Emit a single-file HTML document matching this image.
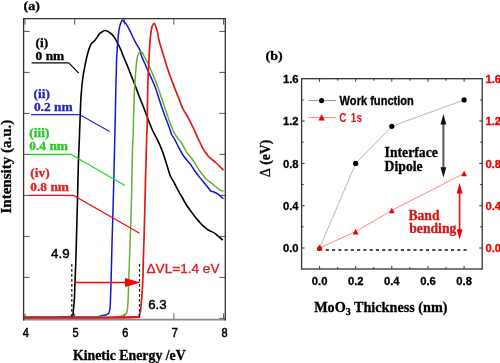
<!DOCTYPE html><html><head><meta charset="utf-8"><title>Figure</title><style>html,body{margin:0;padding:0;background:#fff;}svg{display:block;}</style></head><body>
<svg width="500" height="363" viewBox="0 0 500 363">
<rect width="500" height="363" fill="#fff"/>
<path d="M25.0,319.5V313.5M25.0,18.6V24.6M74.7,319.5V313.5M74.7,18.6V24.6M124.3,319.5V313.5M124.3,18.6V24.6M173.9,319.5V313.5M173.9,18.6V24.6M223.6,319.5V313.5M223.6,18.6V24.6M23.6,31.4H29.6M225.3,31.4H219.3M23.6,72.4H29.6M225.3,72.4H219.3M23.6,113.4H29.6M225.3,113.4H219.3M23.6,154.4H29.6M225.3,154.4H219.3M23.6,195.4H29.6M225.3,195.4H219.3M23.6,236.4H29.6M225.3,236.4H219.3M23.6,277.4H29.6M225.3,277.4H219.3M23.6,318.4H29.6M225.3,318.4H219.3" stroke="#555" stroke-width="1" fill="none"/>
<path d="M24.00,317.30C28.33,317.28 43.67,317.27 50.00,317.20C56.33,317.13 58.67,317.00 62.00,316.90C65.33,316.80 68.28,316.70 70.00,316.60C71.72,316.50 71.82,316.47 72.30,316.30C72.78,316.13 72.72,316.65 72.90,315.60C73.08,314.55 73.15,312.83 73.40,310.00C73.65,307.17 74.15,302.83 74.40,298.60C74.65,294.37 74.68,290.23 74.90,284.60C75.12,278.97 75.45,272.23 75.70,264.80C75.95,257.37 76.10,250.80 76.40,240.00C76.70,229.20 77.18,212.50 77.50,200.00C77.82,187.50 78.00,175.00 78.30,165.00C78.60,155.00 78.98,148.33 79.30,140.00C79.62,131.67 79.95,121.67 80.20,115.00C80.45,108.33 80.60,103.83 80.80,100.00C81.00,96.17 81.18,94.67 81.40,92.00C81.62,89.33 81.82,86.67 82.10,84.00C82.38,81.33 82.72,78.57 83.10,76.00C83.48,73.43 83.95,71.02 84.40,68.60C84.85,66.18 85.32,63.77 85.80,61.50C86.28,59.23 86.75,57.13 87.30,55.00C87.85,52.87 88.42,50.60 89.10,48.70C89.78,46.80 90.45,44.98 91.40,43.60C92.35,42.22 93.72,41.65 94.80,40.40C95.88,39.15 97.07,37.28 97.90,36.10C98.73,34.92 99.18,33.93 99.80,33.30C100.42,32.67 100.78,32.77 101.60,32.30C102.42,31.83 103.67,30.65 104.70,30.50C105.73,30.35 106.65,30.78 107.80,31.40C108.95,32.02 110.45,33.12 111.60,34.20C112.75,35.28 113.67,36.35 114.70,37.90C115.73,39.45 116.78,41.53 117.80,43.50C118.82,45.47 119.93,47.70 120.80,49.70C121.67,51.70 121.97,52.97 123.00,55.50C124.03,58.03 125.60,61.47 127.00,64.90C128.40,68.33 130.13,72.92 131.40,76.10C132.67,79.28 133.38,80.85 134.60,84.00C135.82,87.15 137.20,91.10 138.70,95.00C140.20,98.90 142.17,103.68 143.60,107.40C145.03,111.12 145.83,113.53 147.30,117.30C148.77,121.07 150.95,126.72 152.40,130.00C153.85,133.28 154.77,134.52 156.00,137.00C157.23,139.48 158.63,142.23 159.80,144.90C160.97,147.57 161.97,150.10 163.00,153.00C164.03,155.90 165.08,159.38 166.00,162.30C166.92,165.22 167.73,168.13 168.50,170.50C169.27,172.87 169.63,174.42 170.60,176.50C171.57,178.58 173.02,180.63 174.30,183.00C175.58,185.37 176.93,188.20 178.30,190.70C179.67,193.20 181.12,195.58 182.50,198.00C183.88,200.42 185.23,203.03 186.60,205.20C187.97,207.37 189.33,209.10 190.70,211.00C192.07,212.90 193.42,214.85 194.80,216.60C196.18,218.35 197.62,219.95 199.00,221.50C200.38,223.05 201.55,224.48 203.10,225.90C204.65,227.32 206.40,228.80 208.30,230.00C210.20,231.20 212.80,232.02 214.50,233.10C216.20,234.18 217.12,235.32 218.50,236.50C219.88,237.68 222.08,239.58 222.80,240.20" fill="none" stroke="#000" stroke-width="1.6" stroke-linejoin="round"/>
<path d="M24.00,317.20C35.00,317.18 77.67,317.17 90.00,317.10C102.33,317.03 95.98,317.05 98.00,316.80C100.02,316.55 100.80,315.90 102.10,315.60C103.40,315.30 104.90,315.27 105.80,315.00C106.70,314.73 107.00,314.33 107.50,314.00C108.00,313.67 108.42,313.75 108.80,313.00C109.18,312.25 109.55,311.00 109.80,309.50C110.05,308.00 110.13,307.25 110.30,304.00C110.47,300.75 110.63,295.17 110.80,290.00C110.97,284.83 111.08,281.33 111.30,273.00C111.52,264.67 111.77,252.17 112.10,240.00C112.43,227.83 112.92,214.17 113.30,200.00C113.68,185.83 114.08,168.33 114.40,155.00C114.72,141.67 115.00,129.17 115.20,120.00C115.40,110.83 115.48,105.67 115.60,100.00C115.72,94.33 115.78,90.67 115.90,86.00C116.02,81.33 116.18,76.33 116.30,72.00C116.42,67.67 116.47,63.50 116.60,60.00C116.73,56.50 116.80,55.20 117.10,51.00C117.40,46.80 117.98,38.83 118.40,34.80C118.82,30.77 119.08,29.07 119.60,26.80C120.12,24.53 120.98,22.30 121.50,21.20C122.02,20.10 122.18,20.00 122.70,20.20C123.22,20.40 123.98,21.72 124.60,22.40C125.22,23.08 125.58,23.05 126.40,24.30C127.22,25.55 128.47,27.87 129.50,29.90C130.53,31.93 131.68,34.58 132.60,36.50C133.52,38.42 133.78,39.15 135.00,41.40C136.22,43.65 138.85,47.65 139.90,50.00C140.95,52.35 140.47,53.22 141.30,55.50C142.13,57.78 143.38,60.27 144.90,63.70C146.42,67.13 148.75,72.38 150.40,76.10C152.05,79.82 153.53,82.77 154.80,86.00C156.07,89.23 156.77,91.73 158.00,95.50C159.23,99.27 160.87,104.72 162.20,108.60C163.53,112.48 164.82,115.63 166.00,118.80C167.18,121.97 168.38,125.03 169.30,127.60C170.22,130.17 170.58,132.18 171.50,134.20C172.42,136.22 173.60,137.50 174.80,139.70C176.00,141.90 177.23,144.68 178.70,147.40C180.17,150.12 181.75,153.32 183.60,156.00C185.45,158.68 188.03,161.17 189.80,163.50C191.57,165.83 192.55,167.68 194.20,170.00C195.85,172.32 197.75,174.92 199.70,177.40C201.65,179.88 204.03,182.62 205.90,184.90C207.77,187.18 209.65,189.97 210.90,191.10C212.15,192.23 212.05,191.08 213.40,191.70C214.75,192.32 217.32,193.63 219.00,194.80C220.68,195.97 222.75,198.05 223.50,198.70" fill="none" stroke="#1414d4" stroke-width="1.5" stroke-linejoin="round"/>
<path d="M24.00,317.30C38.00,317.28 93.00,317.27 108.00,317.20C123.00,317.13 111.72,317.10 114.00,316.90C116.28,316.70 120.03,316.30 121.70,316.00C123.37,315.70 123.37,315.35 124.00,315.10C124.63,314.85 125.00,315.02 125.50,314.50C126.00,313.98 126.65,313.08 127.00,312.00C127.35,310.92 127.38,310.83 127.60,308.00C127.82,305.17 128.12,299.67 128.30,295.00C128.48,290.33 128.53,285.00 128.70,280.00C128.87,275.00 129.05,271.67 129.30,265.00C129.55,258.33 129.88,249.17 130.20,240.00C130.52,230.83 130.92,220.00 131.20,210.00C131.48,200.00 131.68,190.00 131.90,180.00C132.12,170.00 132.30,157.50 132.50,150.00C132.70,142.50 132.93,140.00 133.10,135.00C133.27,130.00 133.33,125.83 133.50,120.00C133.67,114.17 133.90,105.67 134.10,100.00C134.30,94.33 134.45,90.40 134.70,86.00C134.95,81.60 135.30,77.43 135.60,73.60C135.90,69.77 136.22,65.68 136.50,63.00C136.78,60.32 136.97,59.00 137.30,57.50C137.63,56.00 137.97,54.98 138.50,54.00C139.03,53.02 139.83,51.77 140.50,51.60C141.17,51.43 141.83,52.10 142.50,53.00C143.17,53.90 143.48,55.02 144.50,57.00C145.52,58.98 147.10,61.72 148.60,64.90C150.10,68.08 151.95,72.38 153.50,76.10C155.05,79.82 156.73,84.05 157.90,87.20C159.07,90.35 159.37,91.63 160.50,95.00C161.63,98.37 163.42,103.62 164.70,107.40C165.98,111.18 167.07,114.52 168.20,117.70C169.33,120.88 170.48,123.93 171.50,126.50C172.52,129.07 173.20,131.08 174.30,133.10C175.40,135.12 176.92,136.95 178.10,138.60C179.28,140.25 180.30,141.35 181.40,143.00C182.50,144.65 183.82,146.95 184.70,148.50C185.58,150.05 185.53,150.63 186.70,152.30C187.87,153.97 190.23,156.55 191.70,158.50C193.17,160.45 194.27,162.08 195.50,164.00C196.73,165.92 197.37,167.55 199.10,170.00C200.83,172.45 203.73,176.43 205.90,178.70C208.07,180.97 209.82,181.75 212.10,183.60C214.38,185.45 217.70,188.53 219.60,189.80C221.50,191.07 222.85,190.97 223.50,191.20" fill="none" stroke="#66b030" stroke-width="1.5" stroke-linejoin="round"/>
<path d="M24.00,317.90C36.67,317.88 81.33,317.88 100.00,317.80C118.67,317.72 129.58,317.65 136.00,317.40C142.42,317.15 137.92,316.78 138.50,316.30C139.08,315.82 139.17,315.38 139.50,314.50C139.83,313.62 140.17,313.42 140.50,311.00C140.83,308.58 141.20,303.50 141.50,300.00C141.80,296.50 142.05,294.17 142.30,290.00C142.55,285.83 142.83,280.00 143.00,275.00C143.17,270.00 143.13,265.83 143.30,260.00C143.47,254.17 143.75,248.33 144.00,240.00C144.25,231.67 144.55,220.00 144.80,210.00C145.05,200.00 145.27,189.17 145.50,180.00C145.73,170.83 146.00,162.17 146.20,155.00C146.40,147.83 146.52,142.83 146.70,137.00C146.88,131.17 147.17,126.17 147.30,120.00C147.43,113.83 147.38,106.67 147.50,100.00C147.62,93.33 147.82,85.43 148.00,80.00C148.18,74.57 148.40,71.57 148.60,67.40C148.80,63.23 149.05,57.90 149.20,55.00C149.35,52.10 149.30,52.95 149.50,50.00C149.70,47.05 150.03,40.97 150.40,37.30C150.77,33.63 151.28,30.07 151.70,28.00C152.12,25.93 152.48,25.67 152.90,24.90C153.32,24.13 153.78,23.30 154.20,23.40C154.62,23.50 154.88,24.22 155.40,25.50C155.92,26.78 156.72,28.68 157.30,31.10C157.88,33.52 158.25,37.23 158.90,40.00C159.55,42.77 160.43,45.13 161.20,47.70C161.97,50.27 162.63,52.50 163.50,55.40C164.37,58.30 165.43,62.03 166.40,65.10C167.37,68.17 168.33,71.07 169.30,73.80C170.27,76.53 171.23,78.93 172.20,81.50C173.17,84.07 173.97,86.30 175.10,89.20C176.23,92.10 177.72,95.68 179.00,98.90C180.28,102.12 181.58,105.90 182.80,108.50C184.02,111.10 185.10,112.37 186.30,114.50C187.50,116.63 188.83,119.05 190.00,121.30C191.17,123.55 192.00,125.25 193.30,128.00C194.60,130.75 196.13,134.27 197.80,137.80C199.47,141.33 201.68,146.30 203.30,149.20C204.92,152.10 206.22,153.63 207.50,155.20C208.78,156.77 209.55,157.30 211.00,158.60C212.45,159.90 214.12,161.07 216.20,163.00C218.28,164.93 222.28,169.00 223.50,170.20" fill="none" stroke="#dc1a1a" stroke-width="1.7" stroke-linejoin="round"/>
<polyline points="24,317.9 100,317.8 137.5,317.0" fill="none" stroke="#ee1010" stroke-width="2.1"/>
<line x1="23.0" y1="319.7" x2="225.9" y2="319.7" stroke="#8a8a8a" stroke-width="1.8"/>
<path d="M23.6,320.4V18.6H225.3V320.4" fill="none" stroke="#333" stroke-width="1.3"/>
<polyline points="31.6,62.9 68.7,62.9 78.8,73.2" fill="none" stroke="#000" stroke-width="1.2"/>
<polyline points="31,114.6 79.5,114.6 109.6,131.4" fill="none" stroke="#2222dd" stroke-width="1.2"/>
<polyline points="29,154.3 70.8,154.3 125,185.5" fill="none" stroke="#11dd11" stroke-width="1.2"/>
<polyline points="29,195.4 73.6,195.4 139.6,233.2" fill="none" stroke="#ee1111" stroke-width="1.2"/>
<g font-family="'Liberation Serif', 'Times New Roman', serif" font-weight="bold" font-size="13.5">
<text transform="translate(23.6,9.6) scale(1.1,1)" font-size="12.8" stroke="#000" stroke-width="0.3">(a)</text>
<g font-size="12.2">
<text transform="translate(35.6,47.0) scale(1.1,1)" stroke="#000" stroke-width="0.3">(i)</text>
<text transform="translate(35.6,59.5) scale(1.1,1)" stroke="#000" stroke-width="0.3">0 nm</text>
<text transform="translate(33.6,98.0) scale(1.1,1)" fill="#2a2aa8" stroke="#2a2aa8" stroke-width="0.3">(ii)</text>
<text transform="translate(33.9,111.4) scale(1.1,1)" fill="#2a2aa8" stroke="#2a2aa8" stroke-width="0.3">0.2 nm</text>
<text transform="translate(29.3,136.8) scale(1.1,1)" fill="#22cc22" stroke="#22cc22" stroke-width="0.3">(iii)</text>
<text transform="translate(29.3,149.6) scale(1.1,1)" fill="#22cc22" stroke="#22cc22" stroke-width="0.3">0.4 nm</text>
<text transform="translate(30.3,177.2) scale(1.1,1)" fill="#dd2222" stroke="#dd2222" stroke-width="0.3">(iv)</text>
<text transform="translate(30.3,191.0) scale(1.1,1)" fill="#dd2222" stroke="#dd2222" stroke-width="0.3">0.8 nm</text>
</g>
<text x="73" y="360" font-size="13.8" stroke="#000" stroke-width="0.3">Kinetic Energy /eV</text>
<text transform="translate(11,213.5) rotate(-90)" font-size="15" stroke="#000" stroke-width="0.3">Intensity (a.u.)</text>
</g>
<g font-family="'Liberation Sans', Arial, sans-serif" font-size="12.2" text-anchor="middle">
<text transform="translate(25.9,336.6) scale(0.9,1)" stroke="#000" stroke-width="0.5">4</text>
<text transform="translate(75.6,336.6) scale(0.9,1)" stroke="#000" stroke-width="0.5">5</text>
<text transform="translate(125.2,336.6) scale(0.9,1)" stroke="#000" stroke-width="0.5">6</text>
<text transform="translate(174.8,336.6) scale(0.9,1)" stroke="#000" stroke-width="0.5">7</text>
<text transform="translate(224.5,336.6) scale(0.9,1)" stroke="#000" stroke-width="0.5">8</text>
</g>
<path d="M71.8,264V318M139.5,264V318" stroke="#111" stroke-width="1.2" stroke-dasharray="2.8,2.2" fill="none"/>
<line x1="74" y1="282.5" x2="127" y2="282.5" stroke="#ff0000" stroke-width="1.5"/>
<polygon points="125,278 140.6,282.5 125,287" fill="#ff0000"/>
<text x="51.1" y="258.4" font-family="'Liberation Sans', Arial, sans-serif" font-size="13.3" stroke="#000" stroke-width="0.45">4.9</text>
<text x="148.2" y="309.4" font-family="'Liberation Sans', Arial, sans-serif" font-size="13.3" stroke="#000" stroke-width="0.45">6.3</text>
<text x="146.5" y="272.7" font-family="'Liberation Sans', Arial, sans-serif" font-size="13.6" fill="#e31a1a" stroke="#e31a1a" stroke-width="0.35">ΔVL=1.4 eV</text>
<path d="M319.6,269.0V266.0M319.6,78.7V81.7M337.7,269.0V267.0M337.7,78.7V80.7M355.7,269.0V266.0M355.7,78.7V81.7M373.8,269.0V267.0M373.8,78.7V80.7M391.8,269.0V266.0M391.8,78.7V81.7M409.9,269.0V267.0M409.9,78.7V80.7M428.0,269.0V266.0M428.0,78.7V81.7M446.0,269.0V267.0M446.0,78.7V80.7M464.1,269.0V266.0M464.1,78.7V81.7M301.6,248.0H304.6M482.2,248.0H479.2M301.6,226.8H303.6M482.2,226.8H480.2M301.6,205.7H304.6M482.2,205.7H479.2M301.6,184.5H303.6M482.2,184.5H480.2M301.6,163.4H304.6M482.2,163.4H479.2M301.6,142.2H303.6M482.2,142.2H480.2M301.6,121.0H304.6M482.2,121.0H479.2M301.6,99.9H303.6M482.2,99.9H480.2" stroke="#333" stroke-width="1" fill="none"/>
<line x1="325.8" y1="250.0" x2="466.8" y2="250.0" stroke="#111" stroke-width="1.5" stroke-dasharray="3.1,3.16"/>
<polyline points="319.6,248.0 355.7,163.4 391.8,126.3 464.1,99.9" fill="none" stroke="#999" stroke-width="0.7"/>
<polyline points="319.6,248.0 355.7,231.6 391.8,210.4 464.1,173.4" fill="none" stroke="#ff6666" stroke-width="0.8"/>
<circle cx="319.6" cy="248.6" r="2.4" fill="#000"/>
<circle cx="355.7" cy="163.4" r="2.6" fill="#000"/>
<circle cx="391.8" cy="126.3" r="2.6" fill="#000"/>
<circle cx="464.1" cy="99.9" r="2.6" fill="#000"/>
<polygon points="316.4,250.4 319.6,244.4 322.8,250.4" fill="#ee0000"/>
<polygon points="352.8,234.4 355.7,228.8 358.6,234.4" fill="#ee0000"/>
<polygon points="388.9,213.2 391.8,207.7 394.7,213.2" fill="#ee0000"/>
<polygon points="461.2,176.2 464.1,170.7 467.0,176.2" fill="#ee0000"/>
<rect x="301.6" y="78.7" width="180.6" height="190.3" fill="none" stroke="#333" stroke-width="1.3"/>
<line x1="308.4" y1="100.6" x2="336" y2="100.6" stroke="#777" stroke-width="0.8"/>
<circle cx="321.6" cy="100.6" r="2.6" fill="#000"/>
<line x1="308.4" y1="117.6" x2="336" y2="117.6" stroke="#ff6666" stroke-width="0.8"/>
<polygon points="318.4,120.5 321.6,114.3 324.9,120.5" fill="#ee0000"/>
<text transform="translate(339.6,104.7) scale(0.88,1)" font-family="'Liberation Sans', Arial, sans-serif" font-weight="bold" font-size="12.6" stroke="#000" stroke-width="0.3">Work function</text>
<text transform="translate(339.2,122.4) scale(0.76,1)" font-family="'Liberation Sans', Arial, sans-serif" font-weight="bold" font-size="13.2" fill="#e81010" stroke="#e81010" stroke-width="0.01">C</text>
<text transform="translate(350.8,122.4) scale(0.76,1)" font-family="'Liberation Sans', Arial, sans-serif" font-weight="bold" font-size="13.2" fill="#e81010" stroke="#e81010" stroke-width="0.01">1s</text>
<g font-family="'Liberation Sans', Arial, sans-serif" font-weight="bold" font-size="11.6">
<text transform="translate(319.6,284.5) scale(0.97,1)" text-anchor="middle" stroke="#000" stroke-width="0.3">0.0</text>
<text transform="translate(355.7,284.5) scale(0.97,1)" text-anchor="middle" stroke="#000" stroke-width="0.3">0.2</text>
<text transform="translate(391.8,284.5) scale(0.97,1)" text-anchor="middle" stroke="#000" stroke-width="0.3">0.4</text>
<text transform="translate(428.0,284.5) scale(0.97,1)" text-anchor="middle" stroke="#000" stroke-width="0.3">0.6</text>
<text transform="translate(464.1,284.5) scale(0.97,1)" text-anchor="middle" stroke="#000" stroke-width="0.3">0.8</text>
<text transform="translate(298.5,252.1) scale(0.97,1)" text-anchor="end" stroke="#000" stroke-width="0.3">0.0</text>
<text transform="translate(485.5,252.1) scale(0.97,1)" fill="#ee0000" stroke="#ee0000" stroke-width="0.3">0.0</text>
<text transform="translate(298.5,209.8) scale(0.97,1)" text-anchor="end" stroke="#000" stroke-width="0.3">0.4</text>
<text transform="translate(485.5,209.8) scale(0.97,1)" fill="#ee0000" stroke="#ee0000" stroke-width="0.3">0.4</text>
<text transform="translate(298.5,167.5) scale(0.97,1)" text-anchor="end" stroke="#000" stroke-width="0.3">0.8</text>
<text transform="translate(485.5,167.5) scale(0.97,1)" fill="#ee0000" stroke="#ee0000" stroke-width="0.3">0.8</text>
<text transform="translate(298.5,125.1) scale(0.97,1)" text-anchor="end" stroke="#000" stroke-width="0.3">1.2</text>
<text transform="translate(485.5,125.1) scale(0.97,1)" fill="#ee0000" stroke="#ee0000" stroke-width="0.3">1.2</text>
<text transform="translate(298.5,82.8) scale(0.97,1)" text-anchor="end" stroke="#000" stroke-width="0.3">1.6</text>
<text transform="translate(485.5,82.8) scale(0.97,1)" fill="#ee0000" stroke="#ee0000" stroke-width="0.3">1.6</text>
</g>
<line x1="443.4" y1="123" x2="443.4" y2="169" stroke="#555" stroke-width="2"/>
<polygon points="443.4,114.1 446.3,124.4 440.5,124.4" fill="#111"/><polygon points="443.4,177.6 446.3,167.3 440.5,167.3" fill="#111"/>
<line x1="459.6" y1="192" x2="459.6" y2="231" stroke="#d82020" stroke-width="1.7"/>
<polygon points="459.6,183.0 462.5,193.4 456.7,193.4" fill="#ee0000"/><polygon points="459.6,239.6 462.5,229.2 456.7,229.2" fill="#ee0000"/>
<g font-family="'Liberation Serif', 'Times New Roman', serif" font-weight="bold" font-size="13.7">
<text transform="translate(265.6,59.8) scale(1.1,1)" font-size="12.8" stroke="#000" stroke-width="0.3">(b)</text>
<text x="384.6" y="156.6" stroke="#000" stroke-width="0.3">Interface</text><text x="384.6" y="170.6" stroke="#000" stroke-width="0.3">Dipole</text>
<text x="408.4" y="219.7" fill="#d41818" stroke="#d41818" stroke-width="0.3">Band</text><text x="409.2" y="233.3" fill="#d41818" stroke="#d41818" stroke-width="0.3">bending</text>
<text x="314.2" y="312.2" font-size="14.2" stroke="#000" stroke-width="0.3">MoO<tspan font-size="10" dy="3">3</tspan><tspan dy="-3"> Thickness (nm)</tspan></text>
<text transform="translate(270,177) rotate(-90)" stroke="#000" stroke-width="0.3"><tspan font-weight="normal">Δ</tspan> (eV)</text>
</g>
</svg></body></html>
